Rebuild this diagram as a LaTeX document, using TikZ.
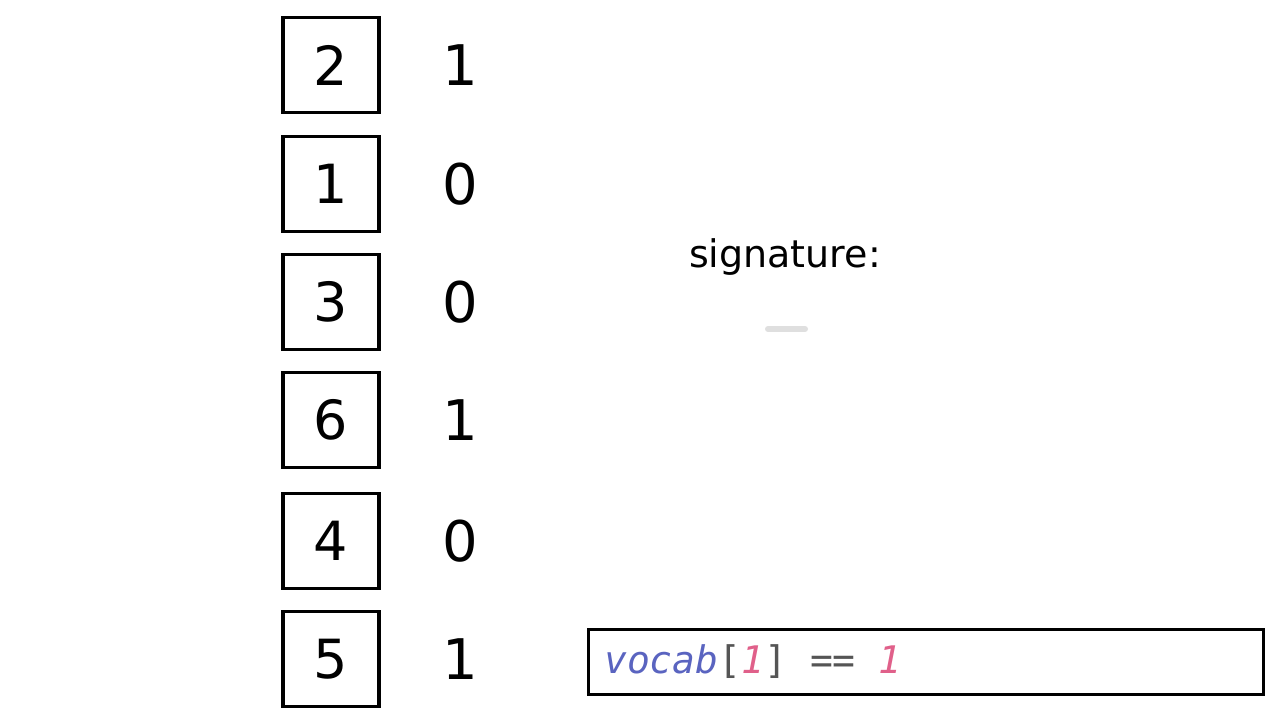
\documentclass[tikz,border=0pt]{standalone}
\usepackage{fontspec}
\newfontfamily\hand{DejaVu Sans}
\newfontfamily\codef{DejaVu Sans Mono}
\definecolor{cblue}{HTML}{5A64C0}
\definecolor{cpink}{HTML}{E0608A}
\definecolor{cgray}{HTML}{555555}
\begin{document}
\begin{tikzpicture}[x=1pt,y=-1pt,
  cell/.style={draw,line width=3.5pt,minimum width=96pt,minimum height=95pt,inner sep=0pt,font=\hand\fontsize{54}{54}\selectfont},
  val/.style={font=\hand\fontsize{56}{56}\selectfont}]
\useasboundingbox (0,0) rectangle (1280,720);
\foreach \n/\v/\y [count=\i] in {2/1/65,1/0/184,3/0/302,6/1/420,4/0/541,5/1/659}{
  \node[cell] (c\i) at (331,\y) {\n};
  \node[val] (v\i) at (460,\y) {\v};
}
\node[font=\hand\fontsize{38}{38}\selectfont] (sig) at (785,257) {signature:};
\draw[line width=6pt,line cap=round,gray!25] (768,329) -- (805,329);
\node[draw,line width=3pt,minimum width=675pt,minimum height=65pt,anchor=north west,inner sep=0pt] (code) at (587,628) {};
\node[anchor=west,font=\codef\fontsize{38}{38}\selectfont,inner sep=0pt] (txt) at (604,662)
 {\textcolor{cblue}{\itshape vocab}\textcolor{cgray}{[}\textcolor{cpink}{\itshape 1}\textcolor{cgray}{] ==} \textcolor{cpink}{\itshape 1}};
\end{tikzpicture}
\end{document}
